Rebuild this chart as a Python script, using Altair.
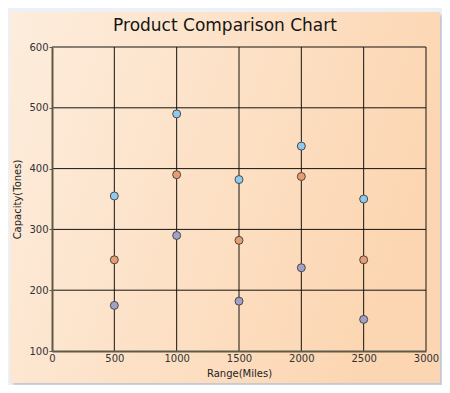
import altair as alt
import pandas as pd

ranges = [500, 1000, 1500, 2000, 2500]
series_a = [355, 490, 382, 437, 350]
series_b = [250, 390, 282, 387, 250]
series_c = [175, 290, 182, 237, 152]
series_names = ["Product A", "Product B", "Product C"]
series_colors = ["#8fcbef", "#ec9a6f", "#a3a0c6"]
x_ticks = [0, 500, 1000, 1500, 2000, 2500, 3000]
y_ticks = [100, 200, 300, 400, 500, 600]
chart_title = "Product Comparison Chart"

rows = []
for name, vals in zip(series_names, [series_a, series_b, series_c]):
    for r, v in zip(ranges, vals):
        rows.append({"series": name, "range": r, "capacity": v})
df = pd.DataFrame(rows)

W, H = 374, 304
xs = alt.Scale(domain=[0, 3000], nice=False, zero=False)
ys = alt.Scale(domain=[100, 600], nice=False, zero=False)

one = alt.Data(values=[{"t": chart_title}])

shadows = [
    alt.Chart(one).mark_rect(color="#8a8f9c", opacity=0.09).encode(
        x=alt.value(-42 + d), x2=alt.value(388 + d),
        y=alt.value(-35 + d), y2=alt.value(336 + d))
    for d in (1, 2, 3, 4, 5)
]

panel = alt.Chart(one).mark_rect(
    fill=alt.LinearGradient(
        gradient="linear", x1=0, y1=0, x2=1, y2=0.3,
        stops=[alt.GradientStop(offset=0, color="#fdeddd"),
               alt.GradientStop(offset=1, color="#fcd6b2")]),
).encode(x=alt.value(-42), x2=alt.value(388), y=alt.value(-35), y2=alt.value(336))

title = alt.Chart(one).mark_text(
    fontSize=17, font="DejaVu Sans", color="#151515", align="center", baseline="middle"
).encode(text="t:N", x=alt.value(173), y=alt.value(-21))

vgrid = alt.Chart(pd.DataFrame({"t": x_ticks[1:]})).mark_rule(
    color="#16140f", strokeWidth=1).encode(
    x=alt.X("t:Q", scale=xs), y=alt.value(0), y2=alt.value(H))
hgrid = alt.Chart(pd.DataFrame({"t": y_ticks[1:]})).mark_rule(
    color="#16140f", strokeWidth=1).encode(
    y=alt.Y("t:Q", scale=ys), x=alt.value(0), x2=alt.value(W))

points = alt.Chart(df).mark_circle(
    size=64, opacity=1, stroke="#4a4a4a", strokeWidth=1).encode(
    x=alt.X("range:Q", scale=xs, title="Range(Miles)",
            axis=alt.Axis(values=x_ticks, format="d", grid=False, ticks=False, labelPadding=2,
                          labelFlush=False, titlePadding=5, zindex=1)),
    y=alt.Y("capacity:Q", scale=ys, title="Capacity(Tones)",
            axis=alt.Axis(values=y_ticks, format="d", grid=False, tickSize=3, labelPadding=1,
                          labelFlush=False, titlePadding=6, zindex=1)),
    color=alt.Color("series:N", scale=alt.Scale(domain=series_names, range=series_colors),
                    legend=None),
)

chart = alt.layer(*shadows, panel, vgrid, hgrid, points, title).properties(
    width=W, height=H,
    autosize=alt.AutoSizeParams(type="none"),
    padding={"left": 44, "top": 39, "right": 16, "bottom": 34},
    background="#eef0f7",
).configure_view(stroke=None, fill=None).configure_axis(
    labelFont="DejaVu Sans", labelFontSize=10, labelColor="#333333",
    titleFont="DejaVu Sans", titleFontSize=10, titleFontWeight="normal", titleColor="#222222",
    domainColor="#5f5a45", domainWidth=2, tickColor="#5f5a45",
)

chart.save("out.html", embed_options={"renderer": "svg", "actions": False})
